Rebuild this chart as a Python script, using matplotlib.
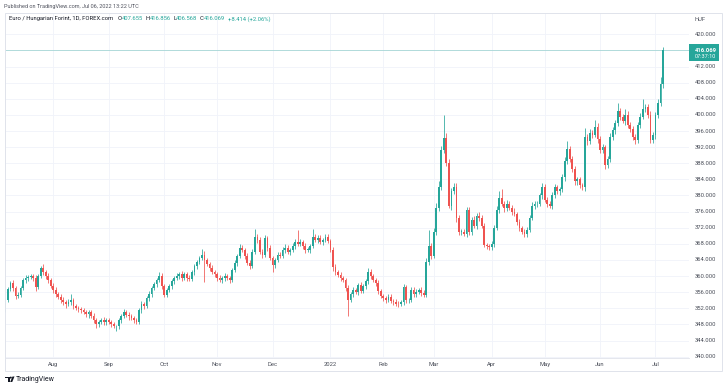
import numpy as np
import pandas as pd
import matplotlib
matplotlib.use('Agg')
import matplotlib.pyplot as plt
from matplotlib.patches import Rectangle, Polygon, Circle

plt.rcParams['font.family'] = ['Roboto', 'DejaVu Sans']

# ---------------- data ----------------
dates = pd.bdate_range('2021-07-06', '2022-07-06')
first_open = 351.6
closes = [
    354.1, 356.8, 358.3, 357.0, 355.0, 355.3, 357.0, 359.0, 359.5, 359.8,
    360.0, 359.5, 357.3, 360.0, 362.0, 361.0, 360.0, 359.0, 357.5, 356.6,
    355.5, 354.9, 354.1, 353.5, 353.0, 353.5, 354.0, 352.5, 352.0, 351.8,
    351.5, 351.0, 350.5, 351.0, 350.0, 349.0, 348.0, 348.5, 349.0, 348.5,
    349.0, 348.5, 348.0, 347.5, 347.5, 349.0, 350.0, 351.0, 350.4, 350.0,
    349.6, 349.0, 348.7, 351.5, 353.0, 352.5, 354.5, 355.5, 357.0, 358.0,
    359.0, 360.0, 357.5, 355.4, 356.5, 357.5, 358.7, 359.5, 360.0, 360.5,
    359.5, 360.5, 359.5, 359.3, 361.0, 362.4, 363.5, 364.5, 365.3, 364.0,
    363.0, 362.0, 361.1, 360.5, 359.5, 359.0, 359.5, 360.0, 359.5, 359.0,
    361.5, 363.3, 365.0, 367.0, 366.5, 365.0, 363.3, 362.5, 366.0, 369.8,
    369.0, 366.0, 365.3, 369.5, 367.0, 364.5, 362.8, 364.0, 365.3, 365.0,
    366.5, 367.0, 366.0, 366.5, 367.5, 368.5, 368.0, 368.5, 367.5, 366.5,
    366.5, 367.5, 369.8, 369.0, 369.5, 368.5, 369.0, 369.8, 368.8, 366.5,
    362.3, 361.0, 360.3, 359.5, 359.0, 357.0, 354.1, 355.5, 356.6, 356.0,
    357.8, 356.3, 357.5, 358.7, 361.1, 360.0, 359.0, 358.3, 356.2, 355.0,
    354.5, 354.1, 354.9, 353.8, 353.6, 353.2, 353.0, 353.5, 357.3, 354.0,
    354.0, 356.6, 355.5, 356.0, 356.6, 355.9, 355.4, 363.5, 367.5, 365.0,
    371.0, 377.0, 382.2, 391.3, 394.2, 388.0, 377.3, 381.0, 382.2, 374.4,
    371.0, 371.0, 370.5, 376.4, 371.0, 374.0, 372.5, 375.0, 374.5, 372.5,
    367.7, 367.5, 367.2, 368.0, 372.0, 376.4, 379.5, 378.0, 376.8, 378.0,
    377.0, 376.0, 375.4, 373.5, 372.0, 371.0, 370.5, 371.5, 374.5, 377.5,
    377.8, 378.0, 380.0, 382.0, 379.0, 378.0, 377.5, 380.0, 382.0, 381.0,
    381.5, 384.5, 388.5, 391.5, 389.0, 386.5, 383.5, 384.0, 382.5, 382.0,
    394.5, 393.5, 395.5, 395.0, 397.0, 394.0, 391.3, 392.0, 387.6, 389.0,
    394.5, 396.2, 398.0, 401.0, 399.5, 398.5, 400.0, 397.5, 396.5, 394.5,
    393.8, 397.5, 399.5, 401.5, 402.0, 400.0, 393.8, 395.0, 400.0, 403.0,
    407.655, 416.069,
]
wick_up = [
    0.4, 0.6, 0.4, 0.8, 0.5, 0.7, 0.5, 0.6, 0.7, 0.5,
    0.6, 0.5, 0.8, 0.5, 0.4, 0.9, 0.6, 0.7, 0.5, 0.8,
    0.6, 0.5, 0.7, 0.6, 0.5, 0.8, 1.5, 0.6, 0.5, 0.7,
    0.5, 0.6, 0.7, 0.5, 0.6, 0.8, 0.5, 0.7, 0.6, 0.9,
    0.5, 0.7, 0.6, 0.5, 0.4, 0.7, 0.6, 0.8, 0.5, 0.6,
    0.7, 0.5, 0.6, 0.5, 0.8, 0.6, 0.5, 0.7, 0.6, 0.5,
    0.6, 0.9, 0.7, 0.5, 0.6, 0.5, 0.7, 0.6, 0.8, 0.5,
    0.7, 0.6, 0.5, 0.8, 0.6, 0.7, 0.5, 0.6, 1.4, 1.0,
    0.5, 0.6, 0.7, 0.5, 0.6, 0.8, 0.5, 0.7, 0.6, 0.5,
    0.6, 0.7, 0.5, 0.9, 0.6, 0.5, 0.7, 0.6, 0.8, 1.9,
    0.7, 0.6, 0.8, 0.6, 0.5, 0.7, 0.6, 0.5, 0.8, 0.6,
    0.7, 0.9, 0.6, 0.5, 0.7, 0.6, 3.0, 0.6, 0.5, 0.7,
    0.6, 0.5, 1.8, 0.7, 0.6, 0.8, 0.5, 0.7, 0.6, 0.5,
    0.7, 0.6, 0.5, 0.7, 0.6, 0.5, 0.8, 0.6, 0.7, 0.5,
    0.6, 0.7, 0.5, 0.6, 0.9, 0.7, 0.5, 0.6, 0.7, 0.5,
    0.6, 0.5, 0.7, 0.6, 0.5, 0.6, 0.7, 0.5, 0.7, 0.6,
    0.5, 0.7, 0.6, 0.8, 0.5, 0.6, 0.7, 1.0, 4.0, 0.8,
    0.9, 1.2, 1.5, 1.0, 5.8, 1.3, 1.0, 0.8, 0.8, 0.9,
    0.7, 0.6, 0.8, 0.8, 0.7, 0.6, 0.9, 0.7, 0.8, 0.6,
    0.7, 0.6, 0.5, 0.8, 0.7, 0.9, 1.5, 2.0, 0.7, 0.8,
    0.6, 0.7, 0.8, 0.6, 0.7, 0.5, 0.6, 0.8, 0.7, 1.0,
    0.8, 0.6, 0.7, 1.0, 0.8, 0.6, 0.7, 0.8, 0.9, 0.7,
    0.6, 0.8, 1.0, 2.0, 0.9, 0.7, 0.8, 0.6, 0.7, 0.6,
    2.2, 0.8, 1.0, 0.7, 1.7, 0.9, 0.8, 0.7, 0.6, 0.8,
    0.9, 0.7, 0.8, 1.9, 0.7, 0.8, 1.5, 0.9, 0.7, 0.8,
    0.7, 0.8, 0.9, 2.5, 0.8, 0.7, 0.9, 0.8, 0.7, 0.9,
    1.75, 0.787,
]
wick_dn = [
    0.5, 0.6, 0.5, 0.7, 0.8, 0.5, 0.6, 0.5, 0.7, 0.6,
    0.5, 0.7, 1.0, 0.6, 0.5, 0.7, 0.6, 0.8, 0.5, 0.7,
    0.6, 0.5, 0.7, 0.6, 0.8, 0.5, 0.6, 0.7, 0.5, 0.6,
    0.7, 0.5, 0.6, 0.8, 0.5, 0.7, 0.8, 0.6, 0.5, 0.7,
    0.6, 0.5, 0.7, 0.5, 1.2, 0.6, 0.7, 0.5, 0.6, 0.8,
    0.5, 0.7, 0.6, 0.5, 0.7, 0.6, 0.5, 0.7, 0.6, 0.5,
    0.6, 0.5, 0.8, 0.7, 0.6, 0.5, 0.7, 0.6, 0.5, 0.7,
    0.6, 0.5, 0.7, 0.6, 0.5, 0.7, 0.6, 0.5, 0.6, 5.5,
    0.6, 0.7, 0.5, 0.6, 0.7, 0.5, 0.6, 0.8, 0.5, 0.7,
    0.5, 0.6, 0.7, 0.5, 0.6, 0.8, 0.6, 0.7, 0.5, 0.6,
    0.7, 0.6, 0.8, 0.5, 0.7, 0.6, 1.8, 0.7, 0.6, 0.5,
    0.6, 0.7, 0.5, 0.8, 0.6, 0.7, 0.5, 0.6, 0.8, 0.7,
    0.5, 0.7, 0.6, 0.5, 0.7, 0.6, 0.8, 0.5, 0.7, 0.6,
    1.0, 0.7, 0.6, 0.8, 0.5, 0.7, 4.1, 0.6, 0.7, 0.5,
    0.7, 0.6, 0.5, 0.7, 0.6, 0.8, 0.5, 0.7, 0.6, 0.5,
    0.7, 0.8, 0.6, 0.5, 0.7, 0.6, 0.6, 0.5, 0.7, 0.6,
    0.7, 0.5, 0.6, 0.7, 0.5, 0.8, 0.6, 0.5, 0.7, 0.8,
    0.6, 0.7, 0.8, 0.9, 0.7, 0.8, 0.5, 0.8, 0.7, 0.9,
    0.8, 0.7, 0.6, 0.8, 0.7, 0.9, 0.6, 0.7, 0.8, 0.6,
    0.5, 0.7, 0.6, 0.8, 0.7, 0.6, 0.8, 0.7, 0.9, 0.6,
    0.7, 0.8, 0.6, 0.7, 0.9, 0.6, 0.7, 0.8, 0.6, 0.7,
    0.8, 0.7, 0.6, 0.8, 0.7, 0.9, 0.6, 0.8, 0.7, 0.6,
    0.8, 0.7, 0.9, 0.6, 0.8, 0.7, 0.8, 0.9, 0.6, 0.7,
    0.8, 0.9, 0.7, 0.8, 0.6, 0.9, 0.8, 0.7, 1.1, 0.8,
    0.7, 0.8, 0.9, 0.7, 0.8, 0.6, 0.9, 0.8, 0.7, 0.8,
    0.9, 0.7, 0.8, 0.6, 0.9, 0.8, 0.8, 0.7, 0.9, 0.8,
    0.7, 1.087,
]
price_ticks = list(range(340, 424, 4))
month_labels = ['Aug', 'Sep', 'Oct', 'Nov', 'Dec', '2022',
                'Feb', 'Mar', 'Apr', 'May', 'Jun', 'Jul']
last_price = 416.069
countdown = '07:37:10'
legend_title = 'Euro / Hungarian Forint, 1D, FOREX.com'
legend_vals = [('O', '407.655'), ('H', '416.856'), ('L', '406.568'), ('C', '416.069')]
legend_change = '+8.414 (+2.06%)'

# ---------------- figure ----------------
UP, DN = '#26a69a', '#ef5350'
TXT = '#4a4e59'
W, H = 727, 388
fig = plt.figure(figsize=(W / 100, H / 100), dpi=100)
fig.patch.set_facecolor('white')

def fx(px):
    return px / W

def fy(py):
    return 1 - py / H

L, R, T, B = 5, 689, 13, 358
YTOP = 420 + (34.3 - T) / 4.03
YBOT = 340 - (B - 356.7) / 4.03

ax = fig.add_axes([fx(L), fy(B), fx(R) - fx(L), fy(T) - fy(B)])
o = np.array([first_open] + closes[:-1])
c = np.array(closes)
hi = np.maximum(o, c) + np.array(wick_up)
lo = np.minimum(o, c) - np.array(wick_dn)
x = np.arange(len(c))
col = np.where(c >= o, UP, DN)
ax.vlines(x, lo, hi, colors=col, lw=0.55, zorder=3)
body = np.maximum(np.abs(c - o), 0.15)
ax.bar(x, body, bottom=np.minimum(o, c), width=0.7, color=col, lw=0, zorder=4)

ax.set_xlim(-0.17, 271.3)
ax.set_ylim(YBOT, YTOP)

month = dates.month
month_idx = [i for i in range(1, len(dates)) if month[i] != month[i - 1]]
ax.set_xticks(month_idx)
ax.set_xticklabels(month_labels[:len(month_idx)], fontsize=4.2, color=TXT)
ax.set_yticks(price_ticks)
ax.set_yticklabels([])
ax.tick_params(axis='both', length=0, pad=2.6)
ax.grid(True, color='#f0f3fa', lw=0.6, zorder=0)
for s in ['top', 'left', 'right']:
    ax.spines[s].set_visible(False)
ax.spines['bottom'].set_color('#e0e3eb')
ax.spines['bottom'].set_linewidth(0.6)
ax.axhline(last_price, color=UP, lw=0.5, alpha=0.45, zorder=2)

# price scale
pax = fig.add_axes([fx(R), fy(357.5), fx(722) - fx(R), fy(T) - fy(357.5)])
pax.set_xlim(0, 1)
pax.set_ylim(340 - (357.5 - 356.7) / 4.03, YTOP)
pax.axis('off')
for v in price_ticks:
    pax.text(0.17, v, f'{v:.3f}', fontsize=4.2, color=TXT, ha='left',
             va='center', clip_on=True)
pax.add_patch(Rectangle((0.0, last_price - 2.6), 0.91, 4.2, color=UP,
                        lw=0, zorder=5))
pax.text(0.17, last_price, f'{last_price:.3f}', fontsize=4.2, color='white',
         ha='left', va='center', zorder=6, fontweight='bold')
pax.text(0.17, last_price - 1.66, countdown, fontsize=4.0, color='white',
         ha='left', va='center', zorder=6)

# overlay for frame and texts
ov = fig.add_axes([0, 0, 1, 1], facecolor='none')
ov.set_xlim(0, W)
ov.set_ylim(H, 0)
ov.axis('off')
ov.add_patch(Rectangle((4.5, 12.7), 722 - 4.5, 371 - 12.7, fill=False,
                       ec='#e0e3eb', lw=0.7))
ov.text(4, 6.3, 'Published on TradingView.com, Jul 06, 2022 13:22 UTC',
        fontsize=3.95, color='#50535e', ha='left', va='center')
ov.text(694.5, 19.3, 'HUF', fontsize=4.2, color=TXT, ha='left', va='center')

fig.canvas.draw()
rend = fig.canvas.get_renderer()

def put(xp, s, color):
    t = ov.text(xp, 18.8, s, fontsize=4.2, color=color, ha='left', va='center')
    bb = t.get_window_extent(rend)
    return xp + bb.width

xp = put(9, legend_title, '#131722')
xp += 4.5
for k, v in legend_vals:
    xp = put(xp, k, '#131722')
    xp = put(xp, v, UP)
    xp += 2.5
put(xp, legend_change, UP)

# TradingView logo + name
ov.add_patch(Polygon([(5, 376.5), (9.5, 376.5), (9.5, 382), (7.5, 382),
                      (7.5, 378.3), (5, 378.3)], closed=True, color='#131722', lw=0))
ov.add_patch(Circle((10.8, 377.6), 1.0, color='#131722', lw=0))
ov.add_patch(Polygon([(12.5, 376.5), (14.5, 376.5), (12.2, 382), (10.2, 382)],
                     closed=True, color='#131722', lw=0))
ov.text(15.5, 379.3, 'TradingView', fontsize=5.0, color='#131722', ha='left',
        va='center')

fig.savefig('out.png', dpi=100, facecolor='white')
